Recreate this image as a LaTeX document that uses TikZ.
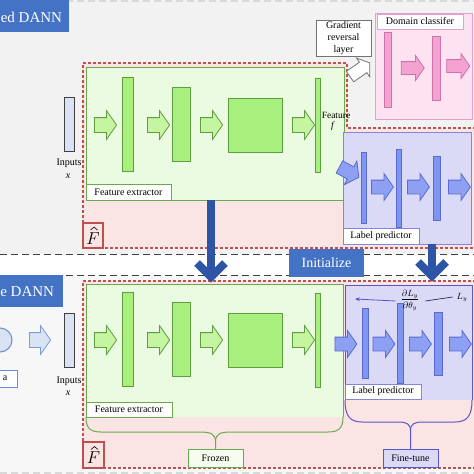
\documentclass[tikz,border=0pt]{standalone}
\usepackage{fontspec}
\setmainfont{Liberation Serif}
\usetikzlibrary{shapes.arrows,arrows.meta}
\definecolor{topbg}{HTML}{F2F2F2}
\definecolor{botbg}{HTML}{F7F7F7}
\definecolor{pinkreg}{HTML}{FBE4E4}
\definecolor{reddash}{HTML}{C0504D}
\definecolor{gbox}{HTML}{EBFBE2}
\definecolor{gline}{HTML}{6AAA4E}
\definecolor{gbar}{HTML}{A8EF7E}
\definecolor{gbarline}{HTML}{5E9E3E}
\definecolor{garrow}{HTML}{C6F5A2}
\definecolor{lpbox}{HTML}{DADAF7}
\definecolor{lpline}{HTML}{8585D8}
\definecolor{lpbar}{HTML}{8095F2}
\definecolor{lpbarline}{HTML}{5A6BD0}
\definecolor{dcbox}{HTML}{FDE3F1}
\definecolor{dcline}{HTML}{E3A0CB}
\definecolor{dcbar}{HTML}{F4A2D2}
\definecolor{dcbarline}{HTML}{CC74AA}
\definecolor{inbar}{HTML}{DAE3F3}
\definecolor{hdrblue}{HTML}{4472C4}
\definecolor{bigblue}{HTML}{2E55A5}
\definecolor{brblue}{HTML}{5A55C8}
\begin{document}
\begin{tikzpicture}[x=1pt,y=-1pt,
  every node/.style={inner sep=0pt,outer sep=0pt},
  txt/.style={font=\fontsize{10}{12}\selectfont},
  tag/.style={draw, fill=white, line width=0.8pt, font=\fontsize{10}{12}\selectfont, minimum height=16pt},
  hdr/.style={text=white, font=\fontsize{15}{18}\selectfont},
  gbarst/.style={draw=gbarline, fill=gbar, line width=0.8pt},
  pbarst/.style={draw=lpbarline, fill=lpbar, line width=0.8pt},
  dbarst/.style={draw=dcbarline, fill=dcbar, line width=0.8pt},
  blk/.style={single arrow, single arrow head indent=0pt, single arrow tip angle=110, inner xsep=0pt, line width=0.8pt},
  garr/.style={blk, draw=gbarline, fill=garrow, inner ysep=7pt, single arrow head extend=7pt, minimum height=22pt},
  parr/.style={blk, draw=lpbarline, fill=lpbar!90, inner ysep=6.5pt, single arrow head extend=6.5pt, minimum height=22pt},
  darr/.style={blk, draw=dcbarline, fill=dcbar, inner ysep=6pt, single arrow head extend=6pt, minimum height=23pt},
  reddsh/.style={draw=reddash, line width=1.4pt, dash pattern=on 3pt off 2pt},
  panelline/.style={draw=black!75, line width=1pt, dash pattern=on 7pt off 4pt},
  bigarr/.style={draw=bigblue, line width=8pt},
  fbox/.style={draw=reddash, fill=pinkreg, line width=1.2pt},
  fletter/.style={font=\fontsize{16}{18}\selectfont},
  hatline/.style={draw=black, line width=0.6pt},
]
\useasboundingbox (0,0) rectangle (474,474);
% backgrounds
\fill[topbg] (0,0) rectangle (474,254);
\fill[white] (0,254) rectangle (474,275);
\fill[botbg] (0,275) rectangle (474,474);
\draw[black!15, line width=1.2pt, dash pattern=on 7pt off 4pt] (0,1) -- (474,1);
\draw[black!15, line width=1.2pt, dash pattern=on 7pt off 4pt] (0,473) -- (474,473);
\draw[panelline] (0,254) -- (474,254);
\draw[panelline] (0,275) -- (474,275);

% ===== top panel =====
\fill[hdrblue] (0,0) rectangle (69,32);
\node[hdr, anchor=east] (h1) at (62,17) {ed DANN};

\draw[reddsh, fill=pinkreg] (476,128) -- (347,128) -- (347,63) -- (83,63) -- (83,248) -- (476,248);

\node[draw=gline, fill=gbox, line width=1pt, minimum width=258pt, minimum height=133pt] (fext1) at (215,133.5) {};
\node[tag, draw=gline, minimum width=85pt] (fe1) at (128.5,192) {Feature extractor};

\node[draw=dcline, fill=dcbox, line width=1pt, minimum width=97pt, minimum height=106pt] (dcb) at (423.5,66) {};
\node[tag, draw=dcline, minimum width=86pt, minimum height=15pt] (dc) at (420,21.5) {Domain classifer};

\node[draw=black!55, fill=white, line width=0.8pt, minimum width=55pt, minimum height=36pt, align=center, font=\fontsize{10}{12}\selectfont] (grl) at (343.5,38) {Gradient\\reversal\\layer};
\node[blk, draw=black!55, fill=white, inner ysep=6pt, single arrow head extend=5pt, minimum height=24pt, rotate=35] (gra) at (358,71) {};

\node[draw=lpline, fill=lpbox, line width=1pt, minimum width=128pt, minimum height=112pt] (lpb1) at (407,188) {};
\node[tag, draw=lpline, minimum width=76pt] (lp1) at (381,236) {Label predictor};

\node[draw=black!75, fill=inbar, line width=1pt, minimum width=10pt, minimum height=54pt] (in1) at (69,124) {};
\node[txt] (in1t) at (69,163) {Inputs};
\node[txt] (in1x) at (68,176) {\textit{x}};

\node[garr] (ga1) at (103,125) {};
\node[gbarst, minimum width=11pt, minimum height=94pt] (g1) at (127.5,124) {};
\node[garr] (ga2) at (156,125) {};
\node[gbarst, minimum width=18pt, minimum height=74pt] (g2) at (181,124) {};
\node[garr] (ga3) at (209,125) {};
\node[gbarst, minimum width=54pt, minimum height=54pt] (g3) at (255,125) {};
\node[garr] (ga4) at (301,125) {};
\node[gbarst, minimum width=5pt, minimum height=94pt] (g4) at (317.5,125) {};
\node[font=\fontsize{9.5}{10}\selectfont] (feat) at (336,115) {Feature};
\node[font=\fontsize{9.5}{10}\selectfont] (ff) at (333,126) {\textit{f}};

\node[parr, rotate=-28] (pa0) at (347,171) {};
\node[pbarst, minimum width=5pt, minimum height=71pt] (p1) at (363.5,187.5) {};
\node[parr] (pa1) at (380,187) {};
\node[pbarst, minimum width=5pt, minimum height=78pt] (p2) at (398.5,188) {};
\node[parr] (pa2) at (416,187) {};
\node[pbarst, minimum width=7pt, minimum height=64pt] (p3) at (436.5,188) {};
\node[parr] (pa3) at (457,187) {};

\node[dbarst, minimum width=7pt, minimum height=75pt] (d1) at (387.5,69.5) {};
\node[darr] (da1) at (410.5,68) {};
\node[dbarst, minimum width=8pt, minimum height=64pt] (d2) at (436,68) {};
\node[darr] (da2) at (456,66) {};

\node[fbox, minimum width=20pt, minimum height=25pt] (fh1) at (93,235.5) {};
\node[fletter] (fh1t) at (93,238.5) {$F$};
\draw[hatline] (90.5,230) -- (94,227) -- (97.5,230);

% ===== bottom panel =====
\fill[hdrblue] (0,275) rectangle (63,307);
\node[hdr, anchor=east] (h2) at (54,292) {e DANN};

\draw[reddsh, fill=pinkreg] (476,281) -- (83,281) -- (83,468) -- (476,468);

\fill[gbox] (86,284) rectangle (343,417);
\draw[gline, line width=1pt] (86,417) -- (86,284) -- (343,284) -- (343,417);
\node[tag, draw=gline, minimum width=86pt, minimum height=15pt] (fe2) at (129,409.5) {Feature extractor};
\node[tag, draw=gline, fill=gbox!50!white, minimum width=55pt, minimum height=18pt] (frz) at (215.5,458) {Frozen};
\draw[gline, line width=1pt] (86,417) .. controls (86,428) and (90,432) .. (101,432) -- (200,432) .. controls (211,432) and (215.5,434) .. (215.5,442) -- (frz.north);
\draw[gline, line width=1pt] (343,417) .. controls (343,428) and (339,432) .. (328,432) -- (231,432) .. controls (220,432) and (215.5,434) .. (215.5,442);

\fill[lpbox] (345,285) rectangle (472,400);
\draw[brblue, line width=1pt] (345,400) -- (345,285) -- (472,285) -- (472,400);
\node[tag, draw=lpline, minimum width=76pt, minimum height=15pt] (lp2) at (383,391.5) {Label predictor};
\node[tag, draw=brblue, fill=lpbox, minimum width=55pt, minimum height=18pt] (ft) at (410.5,458) {Fine-tune};
\draw[brblue, line width=1pt] (345,400) .. controls (345,416) and (350,422) .. (362,422) -- (398,422) .. controls (407,422) and (410.5,424) .. (410.5,431) -- (ft.north);
\draw[brblue, line width=1pt] (472,400) .. controls (472,416) and (467,422) .. (455,422) -- (423,422) .. controls (414,422) and (410.5,424) .. (410.5,431);

\node[draw=hdrblue!80, fill=inbar, line width=1pt, circle, minimum size=24pt] (circ) at (0,340) {};
\node[blk, draw=hdrblue!70, fill=inbar, inner ysep=7pt, single arrow head extend=7pt, minimum height=21pt] (ba) at (37.5,340) {};
\node[draw=hdrblue!80, fill=white, line width=0.8pt, minimum width=20pt, minimum height=17pt] (abox) at (7,378.5) {};
\node[txt] (atext) at (5,378.5) {a};

\node[draw=black!75, fill=inbar, line width=1pt, minimum width=10pt, minimum height=54pt] (in2) at (69,340) {};
\node[txt] (in2t) at (69,381) {Inputs};
\node[txt] (in2x) at (68,393) {\textit{x}};

\node[garr] (gb1) at (103,340) {};
\node[gbarst, minimum width=11pt, minimum height=94pt] (h1b) at (127.5,339) {};
\node[garr] (gb2) at (156,340) {};
\node[gbarst, minimum width=18pt, minimum height=74pt] (h2b) at (181,339) {};
\node[garr] (gb3) at (209,340) {};
\node[gbarst, minimum width=54pt, minimum height=54pt] (h3b) at (255,340) {};
\node[garr] (gb4) at (301,340) {};
\node[gbarst, minimum width=5pt, minimum height=94pt] (h4b) at (317.5,340) {};

\node[parr] (qa0) at (343.5,344) {};
\node[pbarst, minimum width=6pt, minimum height=70pt] (q1) at (365,343) {};
\node[parr] (qa1) at (381.5,344) {};
\node[pbarst, minimum width=6pt, minimum height=80pt] (q2) at (400,343) {};
\node[parr] (qa2) at (418,344) {};
\node[pbarst, minimum width=8pt, minimum height=63pt] (q3) at (438,343.5) {};
\node[parr] (qa3) at (458,344) {};

\node[font=\fontsize{9}{10}\selectfont] (grad) at (410,300) {$\displaystyle\frac{\partial L_y}{\partial\theta_y}$};
\node[font=\fontsize{9}{10}\selectfont] (ly) at (462,298) {$L_y$};
\coordinate (gleft) at (355,299);
\draw[brblue, line width=0.8pt, -{Stealth[length=5pt,width=4pt]}] ([xshift=-5pt,yshift=-1pt]grad.west) -- (gleft);
\draw[black!55!brblue, line width=0.7pt] ([xshift=-4pt,yshift=1pt]ly.west) -- ([xshift=6pt,yshift=-1pt]grad.east);

\node[fbox, minimum width=21pt, minimum height=26pt] (fh2) at (93.5,455) {};
\node[fletter] (fh2t) at (93.5,458) {$F$};
\draw[hatline] (91,449.5) -- (94.5,446.5) -- (98,449.5);

% ===== initialize arrows =====
\coordinate (t1) at (211,277);
\coordinate (t2) at (432,276);
\draw[bigarr] ([xshift=-4pt]fext1.south) -- (t1);
\draw[bigarr, line join=miter] (197,263) -- (t1) -- (225,263);
\draw[bigarr] ([xshift=25pt]lpb1.south) -- (t2);
\draw[bigarr, line join=miter] (418,262) -- (t2) -- (446,262);
\node[fill=hdrblue, text=white, font=\fontsize{14}{16}\selectfont, minimum width=75pt, minimum height=28pt] (init) at (326.5,263) {Initialize};
\end{tikzpicture}
\end{document}
